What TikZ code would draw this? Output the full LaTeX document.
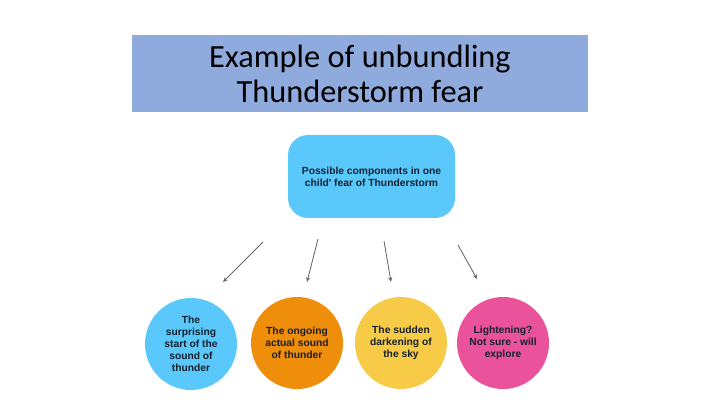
\documentclass[tikz,border=0pt]{standalone}
\usepackage{fontspec}
\setmainfont{Carlito}
\newfontfamily\labelfont{Liberation Sans}
\usepackage{xcolor}
\usepackage{tikz}
\usetikzlibrary{positioning,calc,arrows.meta}

\definecolor{titleblue}{HTML}{8FAADC}
\definecolor{skyblue}{HTML}{5AC8FA}
\definecolor{thunderorange}{HTML}{EF8E0A}
\definecolor{darkyellow}{HTML}{F7CB48}
\definecolor{lightpink}{HTML}{EA539B}
\definecolor{inkblue}{HTML}{14202E}

\begin{document}
\begin{tikzpicture}[
    x=0.025cm, y=-0.025cm,
    every node/.style={font=\labelfont\bfseries\fontsize{7.3}{8.5}\selectfont, text=inkblue, align=center},
    titlebox/.style={fill=titleblue, minimum width=456*0.025cm, minimum height=77*0.025cm,
        font=\fontsize{23}{25}\selectfont, text=black},
    rootbox/.style={fill=skyblue, rounded corners=0.5cm, minimum width=167*0.025cm, minimum height=83*0.025cm},
    part/.style={circle, minimum size=92*0.025cm, inner sep=0pt},
    link/.style={draw=black!60, line width=0.6pt, -{Stealth[length=3.5pt, width=3pt]}},
]
\useasboundingbox (0,0) rectangle (720,405);

% =====================================================================
% Title and root box
% =====================================================================
\node[titlebox] (title) at (360,73.5) {Example of unbundling\\Thunderstorm fear};
\node[rootbox] (root) at (371.5,176.5) {Possible components in one\\child' fear of Thunderstorm};

% =====================================================================
% Components of the fear
% =====================================================================
\node[part, fill=skyblue] (start) at (191,344) {The\\surprising\\start of the\\sound of\\thunder};
\node[part, fill=thunderorange] (ongoing) at (297,343) {The ongoing\\actual sound\\of thunder};
\node[part, fill=darkyellow] (dark) at (401,343) {The sudden\\darkening of\\the sky};
\node[part, fill=lightpink] (light) at (503,343) {Lightening?\\Not sure - will\\explore};

% Arrows float between root and circles
\coordinate (fromA) at (263,242);  \coordinate (toA) at (223,282);
\coordinate (fromB) at (318,239);  \coordinate (toB) at (307,282);
\coordinate (fromC) at (384,241);  \coordinate (toC) at (391,282);
\coordinate (fromD) at (458,245);  \coordinate (toD) at (477,279);
\foreach \a in {A,B,C,D} {
    \draw[link] (from\a) -- (to\a);
}

\end{tikzpicture}
\end{document}
